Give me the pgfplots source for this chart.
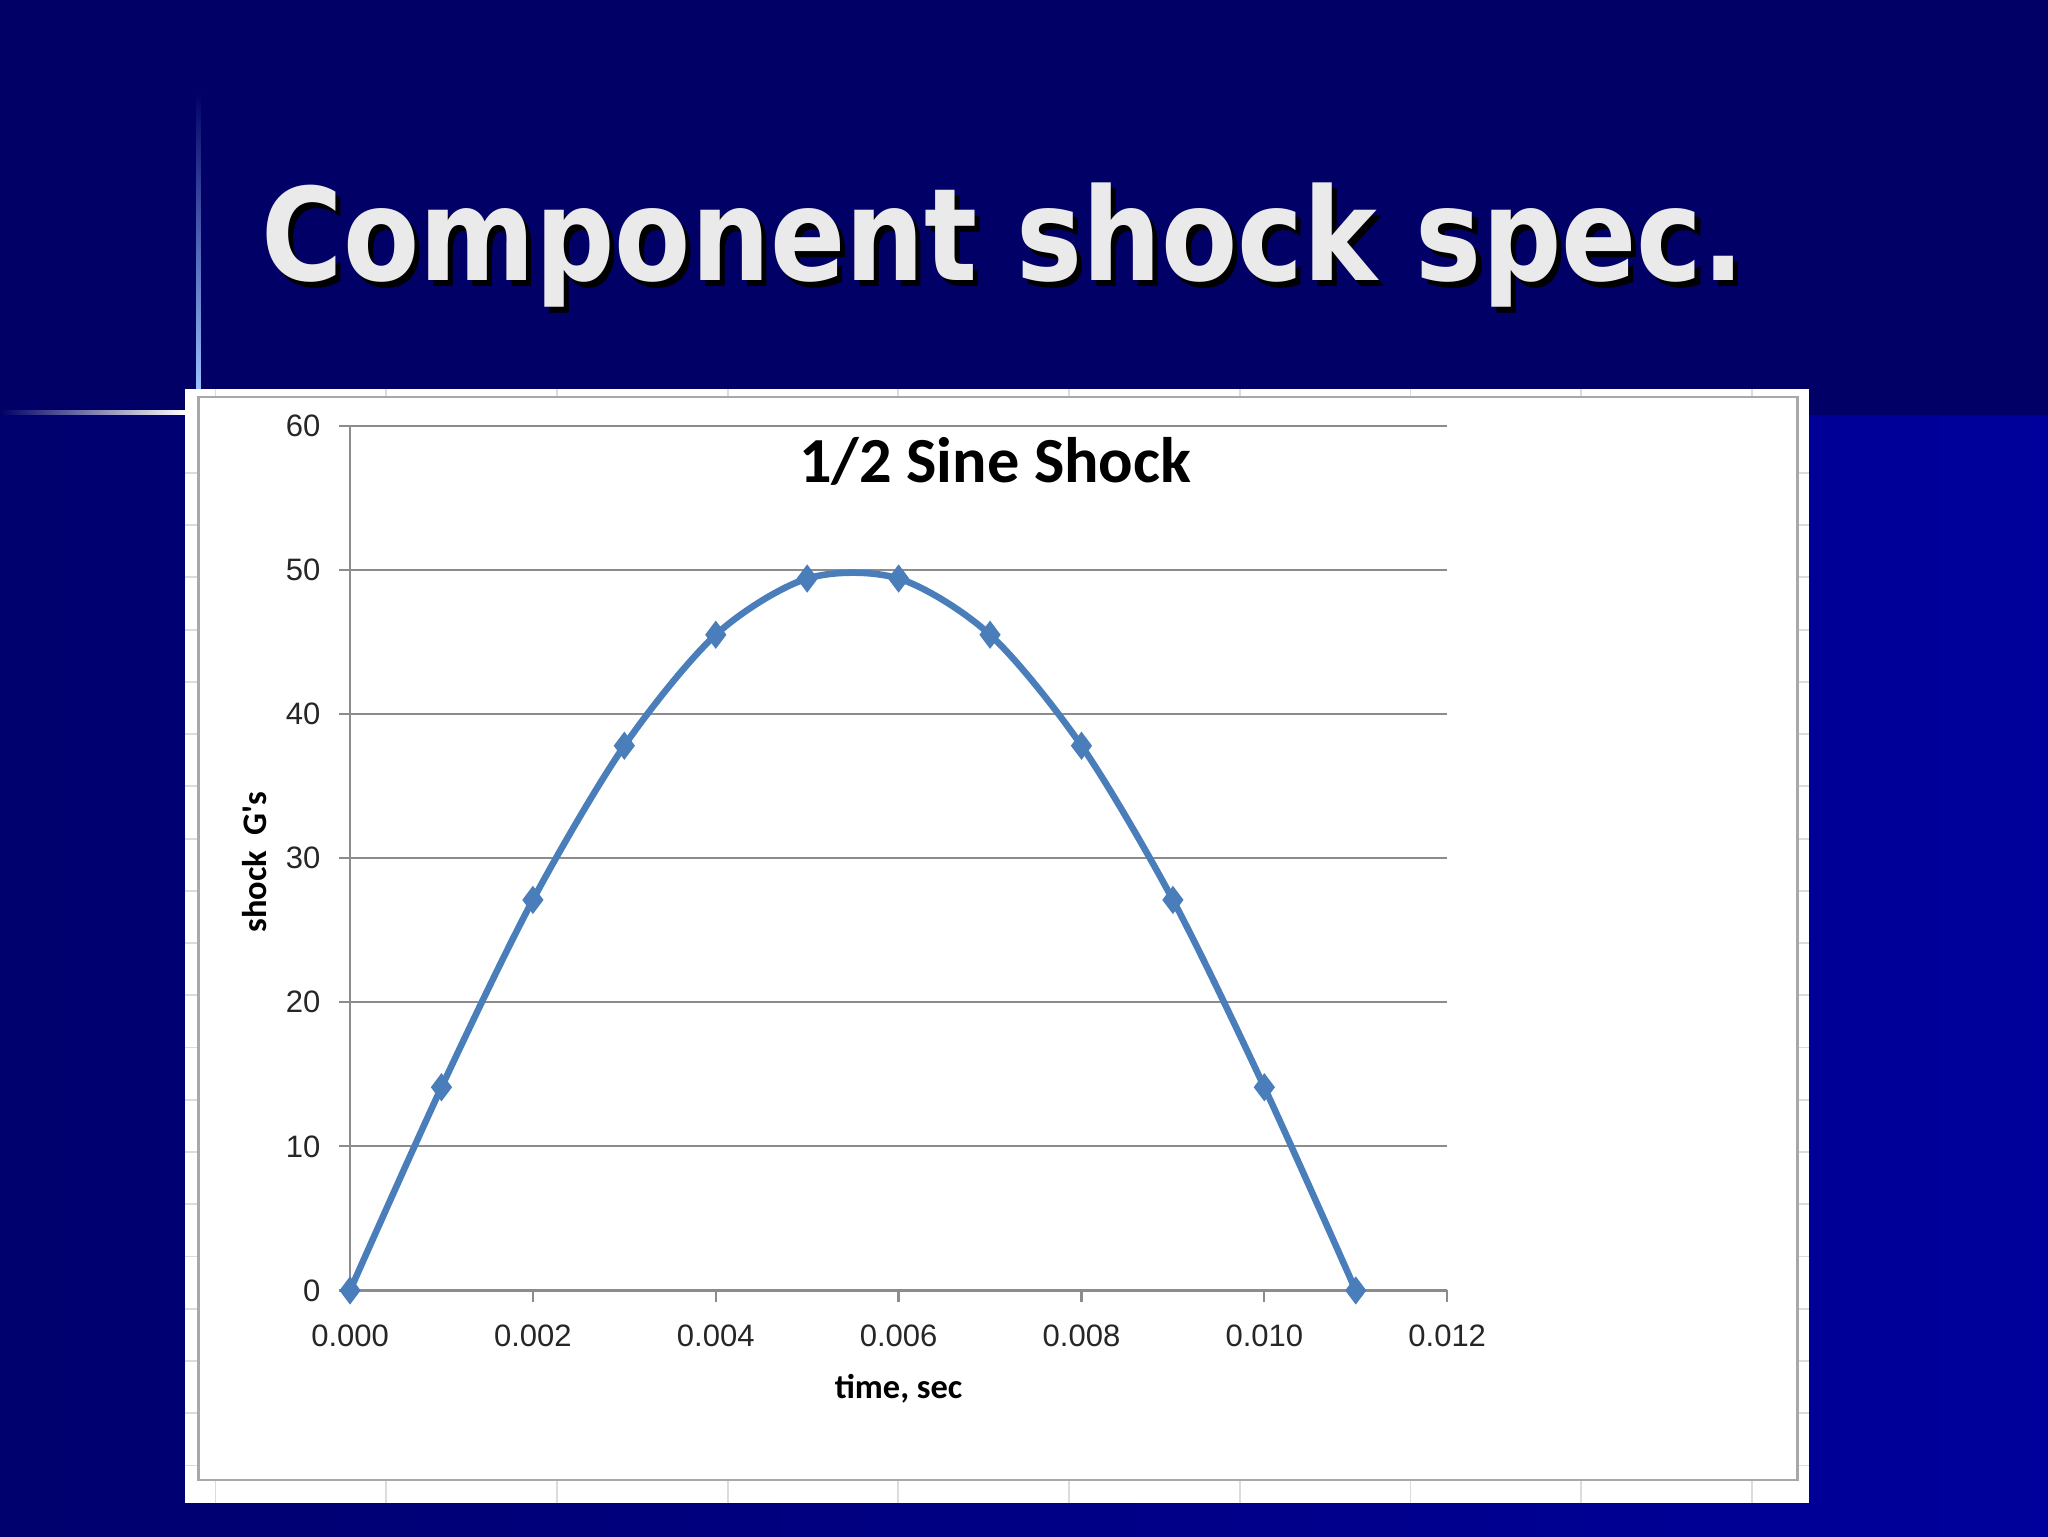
\documentclass[border=0pt]{standalone}
\usepackage{pgfplots}
\pgfplotsset{compat=1.18}
\usepackage{graphicx}
\usepackage{fontspec}
\setmainfont{Liberation Sans}
\newfontfamily\titlefont{DejaVu Sans}
\newfontfamily\calfont{Carlito}
\newfontfamily\tickfont{Liberation Sans}
\definecolor{navy}{HTML}{000066}
\definecolor{lownavy}{HTML}{00006E}
\definecolor{slideblue}{HTML}{00009C}
\definecolor{glow}{HTML}{0064FF}
\definecolor{exblue}{HTML}{4A7EBB}
\definecolor{gridgray}{HTML}{8C8C8C}
\definecolor{bordergray}{HTML}{A8A8A8}
\definecolor{cellgray}{HTML}{DCDCDC}
\definecolor{titlewhite}{HTML}{EAEAEA}

\pgfplotstableread{
t g
0.000 0
0.001 14.1
0.002 27.1
0.003 37.8
0.004 45.5
0.005 49.4
0.006 49.4
0.007 45.5
0.008 37.8
0.009 27.1
0.010 14.1
0.011 0
}\shockdata

\begin{document}
\begin{tikzpicture}
\useasboundingbox (0,0) rectangle (313.6mm,235.2mm);
% slide background
\fill[navy] (0,0) rectangle (313.6mm,235.2mm);
\shade[left color=lownavy, right color=slideblue] (0,0) rectangle (313.6mm,171.6mm);
% glow lines
\shade[left color=navy, middle color=glow, right color=white] (0,171.7mm) rectangle (28.4mm,172.3mm);
\shade[top color=navy, middle color=glow, bottom color=glow!40!white] (30.1mm,175.6mm) rectangle (30.7mm,221.2mm);
% title with shadow
\node[anchor=base west, inner sep=0, text=black] at (40.8mm,191.4mm)
  {\scalebox{0.864}[1]{\titlefont\bfseries\fontsize{56}{60}\selectfont Component shock spec.}};
\node[anchor=base west, inner sep=0, text=titlewhite] at (40mm,192.2mm)
  {\scalebox{0.864}[1]{\titlefont\bfseries\fontsize{56}{60}\selectfont Component shock spec.}};
% chart panel
\fill[white] (28.4mm,5mm) rectangle (277mm,175.6mm);
\foreach \x in {33,59.14,85.28,111.42,137.56,163.7,189.84,215.98,242.12,268.26}{
  \draw[cellgray, line width=0.3mm] (\x mm,5mm) -- (\x mm,8.6mm);
  \draw[cellgray, line width=0.3mm] (\x mm,174.4mm) -- (\x mm,175.6mm);
}
\foreach \y in {10.8,18.8,...,170}{
  \draw[cellgray, line width=0.3mm] (28.4mm,\y mm) -- (30.4mm,\y mm);
  \draw[cellgray, line width=0.3mm] (275.2mm,\y mm) -- (277mm,\y mm);
}
\draw[bordergray, line width=0.4mm] (30.4mm,8.6mm) rectangle (275.2mm,174.4mm);
\begin{axis}[
  at={(53.6mm,37.6mm)}, anchor=south west,
  scale only axis, width=168mm, height=132.4mm,
  xmin=0, xmax=0.012, ymin=0, ymax=60,
  axis lines*=left,
  axis line style={gridgray, line width=0.4mm},
  ymajorgrids, grid style={gridgray, line width=0.35mm},
  tick align=outside, major tick length=1.7mm,
  tick style={gridgray, line width=0.35mm},
  xtick={0,0.002,0.004,0.006,0.008,0.010,0.012},
  xticklabels={0.000,0.002,0.004,0.006,0.008,0.010,0.012},
  ytick={0,10,20,30,40,50,60},
  yticklabels={0,10,20,30,40,50,60},
  scaled x ticks=false,
  /pgf/number format/assume math mode=true,
  ticklabel style={font=\tickfont\fontsize{13.5}{15}\selectfont, text=black!85},
  yticklabel style={xshift=-1.6mm},
  xticklabel style={yshift=-2.4mm},
  title={1/2 Sine Shock},
  title style={at={(axis description cs:0.588,0.918)}, anchor=base, inner sep=0,
    font=\calfont\bfseries\fontsize{28}{32}\selectfont},
  xlabel={time, sec},
  xlabel style={at={(axis description cs:0.5,-0.1254)}, anchor=base, inner sep=0,
    font=\calfont\bfseries\fontsize{15}{18}\selectfont},
  ylabel={shock\ \ G's},
  ylabel style={at={(axis description cs:-0.0869,0.4955)}, anchor=center, inner sep=0,
    font=\calfont\bfseries\fontsize{15}{18}\selectfont},
  clip=false,
]
\addplot[exblue, line width=1.0mm, smooth, tension=0.5,
  mark=diamond*, mark size=2.0mm, mark options={solid, fill=exblue, draw=exblue, line width=0.2mm}]
  table[x=t, y=g] {\shockdata};
\end{axis}
\end{tikzpicture}
\end{document}
